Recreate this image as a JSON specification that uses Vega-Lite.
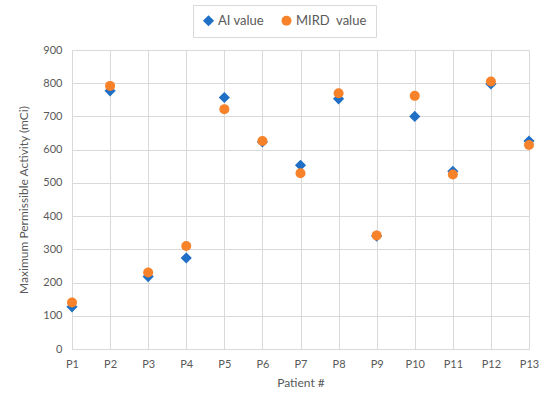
{
  "$schema": "https://vega.github.io/schema/vega-lite/v6.json",
  "width": 457,
  "height": 299,
  "autosize": {"type": "none"},
  "padding": {"left": 72, "top": 50, "right": 21, "bottom": 53},
  "background": "white",
  "config": {
    "font": "Lato",
    "view": {"stroke": null},
    "axis": {
      "gridColor": "#d9d9d9",
      "domainColor": "#d9d9d9",
      "ticks": false,
      "labelColor": "#595959",
      "titleColor": "#595959",
      "labelFontSize": 11,
      "titleFontSize": 12,
      "titleFontWeight": "normal",
      "labelFont": "Lato",
      "titleFont": "Lato"
    }
  },
  "data": {
    "values": [
      {"patient": "P1", "series": "AI value", "value": 127},
      {"patient": "P2", "series": "AI value", "value": 777},
      {"patient": "P3", "series": "AI value", "value": 218},
      {"patient": "P4", "series": "AI value", "value": 274},
      {"patient": "P5", "series": "AI value", "value": 757},
      {"patient": "P6", "series": "AI value", "value": 623},
      {"patient": "P7", "series": "AI value", "value": 553},
      {"patient": "P8", "series": "AI value", "value": 753},
      {"patient": "P9", "series": "AI value", "value": 340},
      {"patient": "P10", "series": "AI value", "value": 700},
      {"patient": "P11", "series": "AI value", "value": 535},
      {"patient": "P12", "series": "AI value", "value": 798},
      {"patient": "P13", "series": "AI value", "value": 626},
      {"patient": "P1", "series": "MIRD\u00a0 value", "value": 140},
      {"patient": "P2", "series": "MIRD\u00a0 value", "value": 792},
      {"patient": "P3", "series": "MIRD\u00a0 value", "value": 230},
      {"patient": "P4", "series": "MIRD\u00a0 value", "value": 310},
      {"patient": "P5", "series": "MIRD\u00a0 value", "value": 722},
      {"patient": "P6", "series": "MIRD\u00a0 value", "value": 626},
      {"patient": "P7", "series": "MIRD\u00a0 value", "value": 529},
      {"patient": "P8", "series": "MIRD\u00a0 value", "value": 770},
      {"patient": "P9", "series": "MIRD\u00a0 value", "value": 342},
      {"patient": "P10", "series": "MIRD\u00a0 value", "value": 762},
      {"patient": "P11", "series": "MIRD\u00a0 value", "value": 525},
      {"patient": "P12", "series": "MIRD\u00a0 value", "value": 805},
      {"patient": "P13", "series": "MIRD\u00a0 value", "value": 614}
    ]
  },
  "mark": {"type": "point", "filled": true, "opacity": 1},
  "encoding": {
    "x": {
      "field": "patient",
      "type": "ordinal",
      "sort": null,
      "scale": {"type": "point", "padding": 0},
      "axis": {
        "title": "Patient #",
        "labelAngle": 0,
        "grid": true,
        "labelPadding": 9,
        "titlePadding": 8
      }
    },
    "y": {
      "field": "value",
      "type": "quantitative",
      "scale": {"domain": [0, 900], "nice": false},
      "axis": {
        "title": "Maximum Permissible Activity (mCi)",
        "values": [0, 100, 200, 300, 400, 500, 600, 700, 800, 900],
        "grid": true,
        "labelPadding": 10,
        "titlePadding": 12
      }
    },
    "color": {
      "field": "series",
      "type": "nominal",
      "sort": ["AI value", "MIRD\u00a0 value"],
      "scale": {"domain": ["AI value", "MIRD\u00a0 value"], "range": ["#1f6fc6", "#f7822a"]},
      "legend": {
        "title": null,
        "orient": "none",
        "legendX": 121,
        "legendY": -45,
        "direction": "horizontal",
        "strokeColor": "#d9d9d9",
        "fillColor": "white",
        "padding": 9,
        "labelFontSize": 13,
        "labelColor": "#595959",
        "labelFont": "Lato",
        "symbolSize": 55,
        "columnPadding": 16,
        "labelOffset": 3,
        "symbolOpacity": 1
      }
    },
    "shape": {
      "field": "series",
      "type": "nominal",
      "scale": {"domain": ["AI value", "MIRD\u00a0 value"], "range": ["diamond", "circle"]},
      "legend": null
    },
    "size": {
      "field": "series",
      "type": "nominal",
      "scale": {"domain": ["AI value", "MIRD\u00a0 value"], "range": [125, 100]},
      "legend": null
    },
    "order": {"field": "series", "sort": "ascending"}
  }
}
